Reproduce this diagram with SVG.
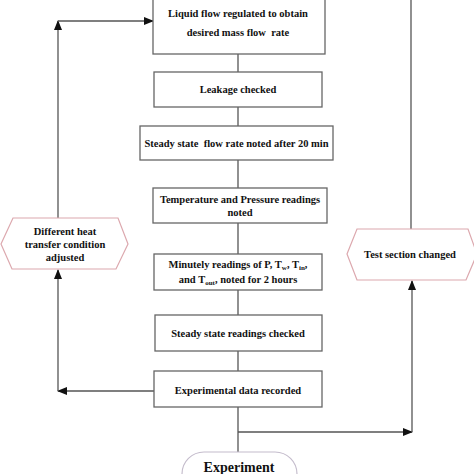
<svg xmlns="http://www.w3.org/2000/svg" width="474" height="474" viewBox="0 0 474 474">
<style>
.box{fill:#fff;stroke:#666;stroke-width:1.3}
.hex{fill:#fff;stroke:#dca8ae;stroke-width:1.2}
.term{fill:#fff;stroke:#c4bccc;stroke-width:1.2}
.t{font-family:"Liberation Serif",serif;font-weight:bold;font-size:10.5px;fill:#111;text-anchor:middle}
.big{font-size:14px}
.c{fill:none;stroke:#555;stroke-width:1.3}
</style>
<defs>
<marker id="ah" markerUnits="userSpaceOnUse" markerWidth="10" markerHeight="8" refX="9" refY="4" orient="auto">
<path d="M0,0 L10,4 L0,8 z" fill="#111"/>
</marker>
</defs>
<g id="connectors">
<line class="c" x1="238" y1="54" x2="238" y2="72"/>
<line class="c" x1="238" y1="107" x2="238" y2="126"/>
<line class="c" x1="238" y1="160" x2="238" y2="188"/>
<line class="c" x1="238" y1="223" x2="238" y2="254"/>
<line class="c" x1="238" y1="290" x2="238" y2="315"/>
<line class="c" x1="238" y1="351" x2="238" y2="371"/>
<line class="c" x1="238" y1="407" x2="238" y2="452"/>
<line class="c" x1="154" y1="391" x2="58" y2="391" marker-end="url(#ah)"/>
<line class="c" x1="58" y1="391" x2="58" y2="270" marker-end="url(#ah)"/>
<line class="c" x1="58" y1="218" x2="58" y2="21" marker-end="url(#ah)"/>
<line class="c" x1="58" y1="21" x2="153" y2="21" marker-end="url(#ah)"/>
<line class="c" x1="238" y1="432" x2="412" y2="432" marker-end="url(#ah)"/>
<line class="c" x1="412" y1="432" x2="412" y2="281" marker-end="url(#ah)"/>
<line class="c" x1="411" y1="229" x2="411" y2="0"/>
</g>
<g id="n1"><rect class="box" x="153" y="-5" width="172" height="59"/>
<text class="t" x="238" y="17">Liquid flow regulated to obtain</text>
<text class="t" x="238" y="36">desired mass flow&#160; rate</text></g>
<g id="n2"><rect class="box" x="154" y="72" width="168" height="35"/>
<text class="t" x="238" y="93">Leakage checked</text></g>
<g id="n3"><rect class="box" x="140" y="126" width="193" height="34"/>
<text class="t" x="236.5" y="147">Steady state&#160; flow rate noted after 20 min</text></g>
<g id="n4"><rect class="box" x="153" y="188" width="174" height="35"/>
<text class="t" x="240" y="203">Temperature and Pressure readings</text>
<text class="t" x="240" y="216">noted</text></g>
<g id="n5"><rect class="box" x="154" y="254" width="168" height="36"/>
<text class="t" x="238" y="268">Minutely readings of P, T<tspan font-size="7" dy="2">w</tspan><tspan dy="-2">, T</tspan><tspan font-size="7" dy="2">in</tspan><tspan dy="-2">,</tspan></text>
<text class="t" x="238" y="283">and T<tspan font-size="7" dy="2">out</tspan><tspan dy="-2">, noted for 2 hours</tspan></text></g>
<g id="n6"><rect class="box" x="155" y="315" width="167" height="36"/>
<text class="t" x="238" y="337">Steady state readings checked</text></g>
<g id="n7"><rect class="box" x="154" y="371" width="168" height="36"/>
<text class="t" x="238" y="394">Experimental data recorded</text></g>
<g id="n8"><polygon class="hex" points="1,244 13,218 118,218 128,244 116,269 12,269"/>
<text class="t" x="65" y="235">Different heat</text>
<text class="t" x="65" y="248">transfer condition</text>
<text class="t" x="65" y="261">adjusted</text></g>
<g id="n9"><polygon class="hex" points="347,254 357,229 468,229 477,254 466,280 357,280"/>
<text class="t" x="410" y="258">Test section changed</text></g>
<g id="n10"><rect class="term" x="182" y="452" width="115" height="50" rx="22"/>
<text class="t big" x="239" y="472">Experiment</text></g>
</svg>
